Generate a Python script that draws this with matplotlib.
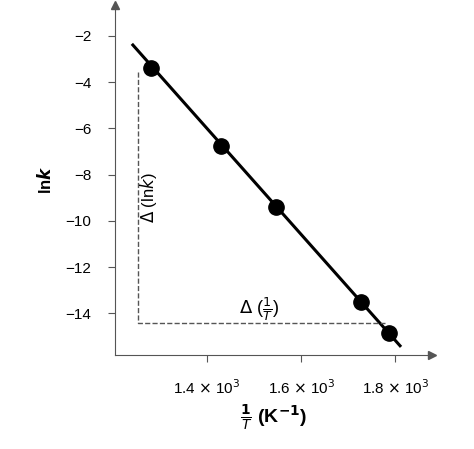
import matplotlib.pyplot as plt

inv_T = [1.281, 1.430, 1.547, 1.728, 1.787]
ln_k = [-3.39, -6.77, -9.40, -13.5, -14.86]
fit_x = [1.242, 1.810]
fit_y = [-2.39, -15.4]
x_ticks = [1.4, 1.6, 1.8]
x_labels = [r'1.4 $\times$ 10$^3$', r'1.6 $\times$ 10$^3$', r'1.8 $\times$ 10$^3$']
y_ticks = [-2, -4, -6, -8, -10, -12, -14]

plt.rcParams['font.family'] = ['Liberation Sans', 'DejaVu Sans']
fig = plt.figure(figsize=(4.74, 4.49), dpi=100)
ax = fig.add_axes([115 / 474, 1 - 355 / 449, 317 / 474, 350 / 449])
ax.set_xlim(1.204, 1.878)
ax.set_ylim(-15.8, -0.66)
for s in ['top', 'right']:
    ax.spines[s].set_visible(False)
for s in ['left', 'bottom']:
    ax.spines[s].set_color('#555555')
ax.plot(1, 0, '>', color='#555555', ms=6, transform=ax.transAxes, clip_on=False)
ax.plot(0, 1, '^', color='#555555', ms=6, transform=ax.transAxes, clip_on=False)

ax.plot(fit_x, fit_y, color='black', lw=2.2)
ax.plot(inv_T, ln_k, 'o', color='black', ms=11)
ax.plot([1.253, 1.253, 1.779], [-3.56, -14.4, -14.4], '--', color='#555555', lw=1)

ax.text(1.275, -9.0, r'$\Delta$ (ln$k$)', rotation=90, fontsize=12, ha='center', va='center')
ax.text(1.51, -13.8, r'$\Delta$ ($\frac{1}{T}$)', fontsize=13, ha='center', va='center')

ax.set_xticks(x_ticks)
ax.set_xticklabels(x_labels, fontsize=11)
ax.set_yticks(y_ticks)
ax.set_yticklabels(['\u2212' + str(-v) for v in y_ticks], fontsize=11)
ax.tick_params(direction='out', length=5, color='#555555', pad=12)
ax.set_ylabel(r'ln$\boldsymbol{k}$', fontsize=12, fontweight='bold', labelpad=8)
ax.set_xlabel(r'$\mathbf{\frac{1}{\mathit{T}}}$ (K$^{\mathbf{-1}}$)', fontsize=14, fontweight='bold')
fig.savefig('out.png', dpi=100)
